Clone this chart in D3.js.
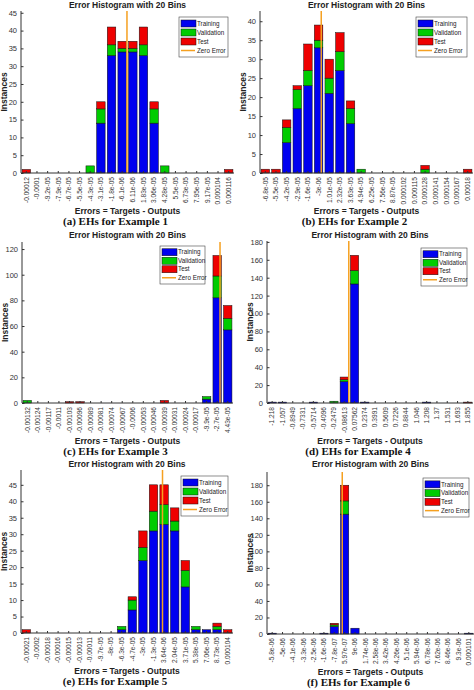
<!DOCTYPE html>
<html>
<head>
<meta charset="utf-8">
<script src="https://cdn.jsdelivr.net/npm/d3@7"></script>
<style>
  body { margin: 0; background: #fff; }
  svg { display: block; font-family: Arial, "Liberation Sans", sans-serif; }
</style>
</head>
<body>
<div id="chart"></div>
<script>
// ---- data ----
const seriesNames = ['Training', 'Validation', 'Test'];

const labelsA = ['-0.00012','-0.0001','-9.2e-05','-7.9e-05','-6.7e-05','-5.5e-05','-4.3e-05','-3.1e-05','-1.8e-05','-6.1e-06','6.11e-06','1.83e-05','3.06e-05','4.28e-05','5.5e-05','6.73e-05','7.95e-05','9.17e-05','0.000104','0.000116'];
const trainA = [0,0,0,0,0,0,0,14,33,34,34,33,14,0,0,0,0,0,0,0];
const valA   = [0,0,0,0,0,0,2,4,3,1,1,3,4,2,0,0,0,0,0,0];
const testA  = [1,0,0,0,0,0,0,2,5,2,2,5,2,0,0,0,0,0,0,1];
const yTicksA = [0,5,10,15,20,25,30,35,40,45];

const labelsB = ['-6.8e-05','-5.5e-05','-4.2e-05','-2.9e-05','-1.6e-05','-3e-06','1.01e-05','2.32e-05','3.63e-05','4.94e-05','6.25e-05','7.56e-05','8.87e-05','0.000102','0.000115','0.000128','0.000141','0.000154','0.000167','0.00018'];
const trainB = [0,0,8,17,23,33,21,27,13,0,0,0,0,0,0,0,0,0,0,0];
const valB   = [0,0,4,5,4,2,4,5,4,1,0,0,0,0,0,1,0,0,0,0];
const testB  = [1,1,2,1,7,4,5,5,2,0,0,0,0,0,0,1,0,0,0,1];
const yTicksB = [0,5,10,15,20,25,30,35,40];

const labelsC = ['-0.00132','-0.00124','-0.00117','-0.0011','-0.00103','-0.00096','-0.00089','-0.00081','-0.00074','-0.00067','-0.0006','-0.00053','-0.00046','-0.00039','-0.00031','-0.00024','-0.00017','-9.9e-05','-2.7e-05','4.43e-05'];
const trainC = [0,0,0,0,0,0,0,0,0,0,0,0,0,0,0,0,0,3,82,57];
const valC   = [2,0,0,0,0,0,0,0,0,0,0,0,0,0,0,0,0,2,17,9];
const testC  = [0,0,0,0,1,1,0,0,0,0,0,0,0,2,0,0,0,0,16,10];
const yTicksC = [0,20,40,60,80,100,120];

const labelsD = ['-1.218','-1.057','-0.8949','-0.7331','-0.5714','-0.4096','-0.2479','-0.08613','0.07562','0.2374','0.3991','0.5609','0.7226','0.8844','1.046','1.208','1.37','1.531','1.693','1.855'];
const trainD = [1,1,0,0,1,0,0,24,133,1,0,0,0,0,0,1,0,0,0,0];
const valD   = [0,0,0,0,0,0,2,2,15,0,0,0,0,0,0,0,0,0,0,0];
const testD  = [0,0,0,0,0,0,0,3,17,0,0,0,0,0,0,0,0,0,0,1];
const yTicksD = [0,20,40,60,80,100,120,140,160,180];

const labelsE = ['-0.00021','-0.0002','-0.00018','-0.00016','-0.00015','-0.00013','-0.00011','-9.7e-05','-8e-05','-6.3e-05','-4.7e-05','-3e-05','-1.3e-05','3.64e-06','2.04e-05','3.71e-05','5.38e-05','7.06e-05','8.73e-05','0.000104'];
const trainE = [0,0,0,0,0,0,0,0,0,1,7,22,31,33,31,14,1,1,1,0];
const valE   = [0,0,0,0,0,0,0,0,0,1,3,4,6,6,3,5,1,0,1,0];
const testE  = [1,0,0,0,0,0,0,0,0,0,1,5,8,6,4,3,0,0,1,1];
const yTicksE = [0,5,10,15,20,25,30,35,40,45];

const labelsF = ['-5.8e-06','-5e-06','-4.1e-06','-3.3e-06','-2.5e-06','-1.6e-06','-7.8e-07','5.97e-07','9e-06','1.74e-06','2.58e-06','3.42e-06','4.26e-06','5.1e-06','5.94e-06','6.78e-06','7.62e-06','8.46e-06','9.3e-06','0.000101'];
const trainF = [1,0,0,0,0,1,9,145,7,0,0,0,0,0,0,0,0,0,0,1];
const valF   = [0,0,0,0,0,0,2,16,0,0,0,0,0,0,0,0,0,0,0,0];
const testF  = [0,0,0,0,0,0,2,19,0,0,0,0,0,0,0,0,0,0,0,0];
const yTicksF = [0,20,40,60,80,100,120,140,160,180];

// y-axis top and zero-error position (in bin units)
const yMaxes = [45.5, 42.7, 125.5, 181, 49.5, 196];
const zeroBins = [9.45, 5.25, 18.27, 7.44, 12.85, 6.77];
const captions = ['(a) EHs for Example 1','(b) EHs for Example 2','(c) EHs for Example 3',
                  '(d) EHs for Example 4','(e) EHs for Example 5','(f) EHs for Example 6'];

// ---- layout (pixel boxes of each panel) ----
const layout = [
  { left: 21,  right: 234, top: 11,  bottom: 173, title: 8,   legend: [179, 17, 49, 40] },
  { left: 260, right: 473, top: 11,  bottom: 173, title: 8,   legend: [416, 17, 51, 40] },
  { left: 22,  right: 233, top: 242, bottom: 403, title: 238, legend: [160, 246, 45, 38] },
  { left: 267, right: 473, top: 241, bottom: 403, title: 238, legend: [421, 248, 46, 38] },
  { left: 21,  right: 233, top: 470, bottom: 633, title: 467, legend: [181, 476, 47, 40] },
  { left: 267, right: 474, top: 472, bottom: 634, title: 467, legend: [423, 478, 46, 39] }
];

const panels = [
  [labelsA, trainA, valA, testA, yTicksA],
  [labelsB, trainB, valB, testB, yTicksB],
  [labelsC, trainC, valC, testC, yTicksC],
  [labelsD, trainD, valD, testD, yTicksD],
  [labelsE, trainE, valE, testE, yTicksE],
  [labelsF, trainF, valF, testF, yTicksF]
];

const colors = { Training: '#0000f0', Validation: '#00cc00', Test: '#ee0000' };
const zeroColor = '#f5a020';
const axisColor = '#333';

const svg = d3.select('#chart').append('svg')
  .attr('width', 474)
  .attr('height', 690);

svg.append('rect').attr('width', 474).attr('height', 690).attr('fill', '#fff');

panels.forEach((p, i) => {
  const [labels, train, val, test, yTicks] = p;
  const L = layout[i];
  const w = L.right - L.left;
  const h = L.bottom - L.top;

  const rows = labels.map((lab, j) => ({ lab, Training: train[j], Validation: val[j], Test: test[j] }));
  const stacked = d3.stack().keys(seriesNames)(rows);

  const x = d3.scaleBand()
    .domain(labels)
    .range([0, w])
    .paddingInner(0.2)
    .paddingOuter(0.1);
  // continuous bin-index scale for the zero-error line
  const xi = d3.scaleLinear().domain([-0.5, labels.length - 0.5]).range([0, w]);
  const y = d3.scaleLinear().domain([0, yMaxes[i]]).range([h, 0]);

  const g = svg.append('g').attr('transform', `translate(${L.left},${L.top})`);

  // bars
  g.selectAll('.layer')
    .data(stacked)
    .enter().append('g')
    .attr('fill', d => colors[d.key])
    .selectAll('rect')
    .data(d => d.filter(s => s[1] > s[0]))
    .enter().append('rect')
    .attr('x', d => x(d.data.lab))
    .attr('y', d => y(d[1]))
    .attr('width', x.bandwidth())
    .attr('height', d => y(d[0]) - y(d[1]))
    .attr('stroke', '#111')
    .attr('stroke-width', 0.5);

  // zero error line
  g.append('line')
    .attr('x1', xi(zeroBins[i])).attr('x2', xi(zeroBins[i]))
    .attr('y1', h).attr('y2', 0)
    .attr('stroke', zeroColor)
    .attr('stroke-width', 1.5);

  // y axis
  const ya = g.append('g')
    .call(d3.axisLeft(y).tickValues(yTicks).tickSize(-2.5).tickPadding(4));
  ya.select('.domain').attr('stroke', axisColor).attr('d', `M0,${h}V0`);
  ya.selectAll('line').attr('stroke', axisColor);
  ya.selectAll('text').attr('fill', '#333').style('font-size', '7.5px');

  // x axis
  const xa = g.append('g')
    .attr('transform', `translate(0,${h})`)
    .call(d3.axisBottom(x).tickSize(-2).tickPadding(3));
  xa.select('.domain').attr('stroke', axisColor).attr('d', `M0,0H${w}`);
  xa.selectAll('line').attr('stroke', axisColor);
  xa.selectAll('text')
    .attr('fill', '#333')
    .style('font-size', '6.6px')
    .attr('transform', 'rotate(-90)')
    .attr('text-anchor', 'end')
    .attr('x', -4)
    .attr('y', 0)
    .attr('dy', '0.35em');

  // title
  svg.append('text')
    .attr('x', L.left + w / 2)
    .attr('y', L.title)
    .attr('text-anchor', 'middle')
    .style('font-size', '8.5px')
    .style('font-weight', 'bold')
    .attr('fill', '#222')
    .text('Error Histogram with 20 Bins');

  // y label
  svg.append('text')
    .attr('transform', `translate(${L.left - 14},${L.top + h / 2}) rotate(-90)`)
    .attr('text-anchor', 'middle')
    .style('font-size', '8.5px')
    .style('font-weight', 'bold')
    .attr('fill', '#222')
    .text('Instances');

  // x label
  svg.append('text')
    .attr('x', L.left + w / 2)
    .attr('y', L.bottom + 41)
    .attr('text-anchor', 'middle')
    .style('font-size', '8.5px')
    .style('font-weight', 'bold')
    .attr('fill', '#222')
    .text('Errors = Targets - Outputs');

  // caption
  svg.append('text')
    .attr('x', L.left + w / 2 - 12)
    .attr('y', L.bottom + 52)
    .attr('text-anchor', 'middle')
    .style('font-family', '"Liberation Serif", "DejaVu Serif", serif')
    .style('font-size', '11px')
    .style('font-weight', 'bold')
    .attr('fill', '#111')
    .text(captions[i]);

  // legend
  const [lx, ly, lw, lh] = L.legend;
  const lg = svg.append('g').attr('transform', `translate(${lx},${ly})`);
  lg.append('rect')
    .attr('width', lw).attr('height', lh)
    .attr('fill', '#fff').attr('stroke', '#444').attr('stroke-width', 0.6);
  const step = (lh - 4) / 4;
  seriesNames.concat(['Zero Error']).forEach((name, k) => {
    const cy = 2 + step * (k + 0.5);
    if (name === 'Zero Error') {
      lg.append('line')
        .attr('x1', 2).attr('x2', 16).attr('y1', cy).attr('y2', cy)
        .attr('stroke', zeroColor).attr('stroke-width', 1.5);
    } else {
      lg.append('rect')
        .attr('x', 2).attr('y', cy - 3.5).attr('width', 15).attr('height', 7)
        .attr('fill', colors[name]).attr('stroke', '#111').attr('stroke-width', 0.5);
    }
    lg.append('text')
      .attr('x', 18).attr('y', cy)
      .attr('dy', '0.35em')
      .style('font-size', '6.3px')
      .attr('fill', '#222')
      .text(name);
  });
});
</script>
</body>
</html>
